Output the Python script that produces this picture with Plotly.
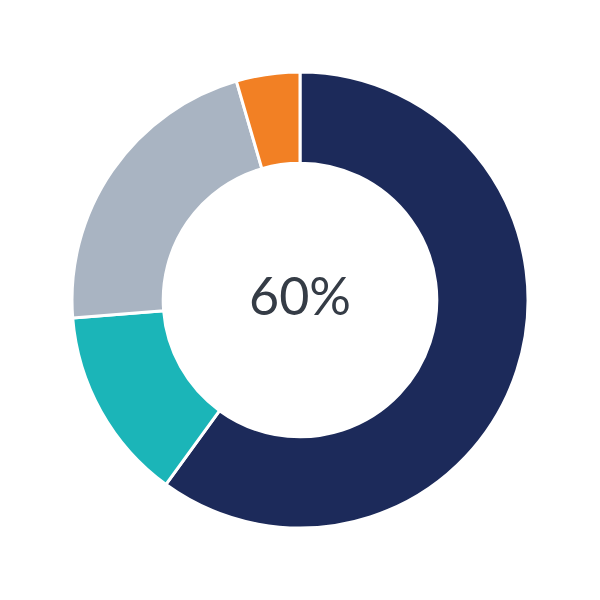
import plotly.graph_objects as go

labels = ["Navy", "Teal", "Gray", "Orange"]
values = [60, 13.75, 21.75, 4.5]
colors = ["#1c2a5a", "#1bb5b8", "#a9b4c2", "#f28024"]
center_text = "60%"

fig = go.Figure(go.Pie(
    labels=labels,
    values=values,
    hole=0.6,
    sort=False,
    direction="clockwise",
    rotation=0,
    marker=dict(colors=colors, line=dict(color="white", width=3)),
    textinfo="none",
    hoverinfo="label+percent",
    showlegend=False,
))
fig.update_layout(
    width=600, height=600,
    margin=dict(l=64, r=80, t=64, b=80),
    paper_bgcolor="white",
    plot_bgcolor="white",
    annotations=[dict(text=center_text, x=0.5, y=0.5, xref="paper", yref="paper",
                      showarrow=False, yshift=5,
                      font=dict(family="Lato", size=52, color="#353c46"))],
)
fig.write_html("out.html")
